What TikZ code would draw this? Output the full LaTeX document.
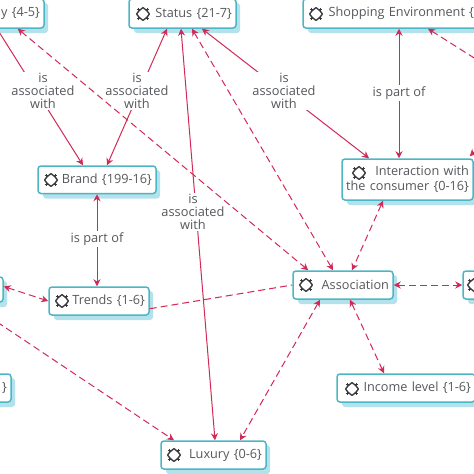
\documentclass[tikz,border=0pt]{standalone}
\usepackage{fontspec}
\setmainfont{Open Sans}
\usetikzlibrary{arrows.meta,calc}
\definecolor{boxline}{HTML}{4DB6C4}
\definecolor{boxshadow}{HTML}{B4E2EC}
\definecolor{linkred}{HTML}{D22A56}
\definecolor{txt}{HTML}{55585C}
\definecolor{ico}{HTML}{3A3C40}
\tikzset{
  concept/.style={draw=boxline,line width=1.5pt,fill=white,rounded corners=3pt,inner sep=0pt,
    text=txt,font=\fontsize{12.7}{15}\selectfont,align=right,anchor=center},
  shadowbox/.style={fill=boxshadow,rounded corners=3pt,draw=none},
  linklabel/.style={fill=white,text=txt,font=\fontsize{12.8}{12.7}\selectfont,align=center,inner sep=1.5pt},
  solidlink/.style={draw=linkred,line width=1pt},
  dashlink/.style={draw=linkred,line width=1pt,dash pattern=on 7pt off 4pt},
  tipboth/.style={{Stealth[length=7pt,width=7pt]}-{Stealth[length=7pt,width=7pt]}},
  tipend/.style={-{Stealth[length=7pt,width=7pt]}},
  tipstart/.style={{Stealth[length=7pt,width=7pt]}-},
  conceptico/.pic={
    \draw[ico,line width=1.4pt,line join=round] (-6.4,0)--(-4,-3.2)--(0,-6.4)--(4,-3.2)--(6.4,0)--(4,3.2)--(0,6.4)--(-4,3.2)--cycle;
    \foreach \a/\b in {-4.8/-4.8,4.8/-4.8,4.8/4.8,-4.8/4.8}{
      \draw[ico,line width=1pt] (\a-1.6,\b)--(\a+1.6,\b) (\a,\b-1.6)--(\a,\b+1.6);}
  }
}
% \cbox{name}{left}{top}{right}{bottom}{text}
\newcommand{\cbox}[6]{%
  \fill[shadowbox] (#2+5,#3+4) rectangle (#4+4,#5+5);
  \pgfmathsetmacro{\boxw}{#4-#2}\pgfmathsetmacro{\boxh}{#5-#3}\pgfmathsetmacro{\boxt}{#4-#2-8}
  \node[concept,minimum width=\boxw pt,minimum height=\boxh pt,text width=\boxt pt] (#1) at ({(#2+#4)/2},{(#3+#5)/2}) {#6};
}
\begin{document}
\begin{tikzpicture}[x=1pt,y=-1pt]
\useasboundingbox (0,0) rectangle (474,474);
\clip (0,0) rectangle (474,474);
\fill[white] (0,0) rectangle (474,474);

% concepts
\cbox{tl}{-70}{-1}{44}{28}{y \{4-5\}}
\cbox{status}{129}{-1}{236}{28}{Status \{21-7\}}
\cbox{shop}{303}{-1}{560}{28}{Shopping Environment \{\hspace*{82pt}}
\cbox{brand}{38}{166}{156}{193.5}{Brand \{199-16\}}
\cbox{inter}{342}{159}{473}{200}{Interaction with\hspace*{6pt}\\the consumer \{0-16\}}
\cbox{trends}{49}{287}{149}{315}{Trends \{1-6\}}
\cbox{assoc}{293}{271}{393}{299}{Association}
\cbox{rnode}{463}{271}{580}{299}{}
\cbox{income}{337}{374}{475}{402}{Income level \{1-6\}}
\cbox{luxury}{161}{441}{266}{469}{Luxury \{0-6\}}
\cbox{lnode}{-90}{277}{3}{302}{}
\cbox{lbot}{-90}{374}{11}{402}{\}}

\pic at (143,14) {conceptico};
\pic at (316,14) {conceptico};
\pic at (51,180) {conceptico};
\pic at (359,173) {conceptico};
\pic at (62,301) {conceptico};
\pic at (306,285) {conceptico};
\pic at (474,285) {conceptico};
\pic at (352,389) {conceptico};
\pic at (174,455) {conceptico};

% solid links
\draw[solidlink,tipend] ([xshift=10pt]tl.south) -- ([xshift=-14pt]brand.north);
\draw[solidlink,tipboth] ([xshift=10pt]brand.north) -- ([xshift=-15.5pt]status.south);
\draw[solidlink,tipboth] ([xshift=-1.5pt]status.south) -- ([xshift=1.5pt]luxury.north);
\draw[solidlink,tipboth] ([xshift=19.5pt]status.south) -- ([xshift=-38.5pt]inter.north);
\draw[solidlink,tipboth] ([xshift=-8.5pt]inter.north |- shop.south) -- ([xshift=-8.5pt]inter.north);
\draw[solidlink,tipboth] (brand.south) -- (trends.north -| brand.south);

% labels over solid links
\node[linklabel] (l1) at (43,91) {is\\associated\\with};
\node[linklabel] (l2) at (137,91) {is\\associated\\with};
\node[linklabel] (l3) at (193,212) {is\\associated\\with};
\node[linklabel] (l4) at (284,91) {is\\associated\\with};
\node[linklabel] (l5) at (399,93) {is part of};
\node[linklabel] (l6) at (97,239) {is part of};

% dashed links
\coordinate (offright1) at (490,68);
\coordinate (offright2) at (480,146);
\coordinate (offleft) at (-3,322);
\draw[dashlink,tipboth] ([xshift=-27pt]tl.south east) -- ([xshift=16pt]assoc.north west);
\draw[dashlink,tipboth] ([xshift=9.5pt]status.south) -- ([xshift=-10pt]assoc.north);
\draw[dashlink,tipboth] ([xshift=-24.5pt]inter.south) -- ([xshift=9pt]assoc.north);
\draw[dashlink,tipstart] ([xshift=-3.5pt]shop.south) -- (offright1);
\draw[dashlink,tipstart] (inter.north east) ++(-4,-2) -- (offright2);
\draw[dashlink] (trends.south east) ++(0,-7) -- (assoc.west);
\draw[dashlink,tipboth] ([xshift=-23pt]assoc.south) -- ([xshift=26.5pt]luxury.north);
\draw[dashlink,tipboth] ([xshift=7pt]assoc.south) -- ([xshift=-22pt]income.north);
\draw[dashlink,tipboth] (assoc.east) -- (rnode.west);
\draw[dashlink,tipboth] (lnode.east) ++(0,-3) -- (trends.west);
\draw[dashlink,tipend] (offleft) -- ([xshift=-39.5pt]luxury.north);
\end{tikzpicture}
\end{document}
